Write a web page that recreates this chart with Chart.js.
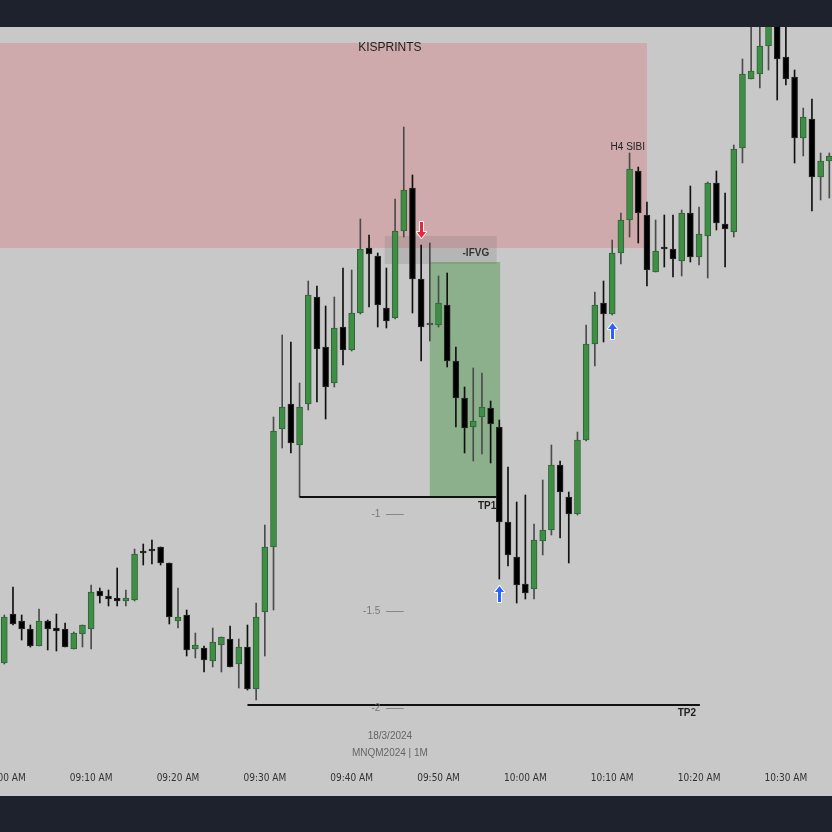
<!DOCTYPE html>
<html lang="en">
<head>
    <meta charset="UTF-8">
    <title>MNQM2024 1M</title>
    <script src="https://cdn.jsdelivr.net/npm/chart.js"></script>
    <style>
        body {
            margin: 0;
            background: #1e222d;
            width: 832px;
            height: 832px;
            overflow: hidden;
        }

        .chart-wrap {
            position: absolute;
            left: 0;
            top: 27px;
            width: 832px;
            height: 769px;
            background: #c8c8c8;
        }
    </style>
</head>
<body>
    <div class="chart-wrap">
        <canvas id="candles" width="832" height="769"></canvas>
    </div>

    <script>
        // 1 minute candles from 09:00, index = minutes after 09:00
        const opens = [18284.25, 18296.5, 18294.75, 18292.75, 18288.5, 18294.75, 18293, 18292.75, 18287.75, 18291.5,
            18292.75, 18302.25, 18301, 18300.5, 18299.75, 18300, 18312.25, 18312.75, 18313.25, 18309.25,
            18294.75, 18296.25, 18287.75, 18288, 18284.75, 18288.75, 18290.25, 18284, 18288.25, 18277.75,
            18297, 18313.25, 18342.75, 18349, 18338.75, 18349, 18375.75, 18363.25, 18354.25, 18368.25,
            18362.5, 18371.75, 18388, 18386, 18373, 18370.5, 18392.25, 18403, 18380.25, 18368.75,
            18368.75, 18373.75, 18359.75, 18350.5, 18343.25, 18345.75, 18348, 18343.25, 18319.5, 18310.75,
            18304, 18302.75, 18314.75, 18317.5, 18333.75, 18325.75, 18321.5, 18340, 18364, 18374.25,
            18371.5, 18386.75, 18395, 18407.25, 18396.25, 18382, 18388, 18387.75, 18384.75, 18396.75,
            18385.75, 18391, 18404.25, 18394, 18392, 18413, 18430.25, 18431.5, 18438.5, 18447.5,
            18435.75, 18430.75, 18415.5, 18420.25, 18405.75, 18409.75];
        const highs = [18296.25, 18303.25, 18296.25, 18293.75, 18297.75, 18295, 18296.5, 18294.25, 18292, 18293.75,
            18303.75, 18303, 18302.5, 18308, 18302.5, 18312.75, 18314, 18315, 18313.25, 18309.25,
            18303, 18297.5, 18291.75, 18288.5, 18293, 18290.75, 18293.5, 18290.25, 18293.75, 18299.25,
            18318.75, 18345.75, 18366.25, 18364.5, 18354.25, 18379.75, 18378.5, 18373.5, 18375.75, 18383,
            18382.5, 18395.25, 18391.25, 18386.75, 18383, 18400.25, 18418.25, 18406.25, 18388.75, 18389.25,
            18381, 18381.75, 18363.25, 18353.25, 18358, 18356.75, 18349.75, 18345, 18333.25, 18324.5,
            18326.25, 18319, 18330, 18338.75, 18334.75, 18327, 18342, 18368.75, 18377, 18379.75,
            18390, 18396.75, 18411.75, 18408.25, 18399.5, 18395, 18396.25, 18396.25, 18397.5, 18403.5,
            18398.25, 18404.5, 18407.25, 18401.75, 18413.75, 18435.25, 18447.5, 18447.5, 18450, 18450,
            18446.25, 18432.5, 18423, 18425.25, 18411.75, 18411.75];
        const lows = [18284, 18293.75, 18290, 18288.25, 18288.5, 18287.5, 18287.25, 18288.25, 18287.75, 18288.25,
            18287.75, 18299.25, 18298.5, 18298.5, 18298.5, 18299.75, 18308.75, 18309, 18308.75, 18294,
            18293, 18286, 18285.5, 18282, 18283.25, 18282, 18283.25, 18278, 18277.5, 18275,
            18286, 18297.5, 18338, 18336.75, 18325.75, 18347.5, 18349.5, 18345.25, 18353.25, 18358.75,
            18362.25, 18371.5, 18373.25, 18368.25, 18368, 18370.25, 18390.75, 18371.75, 18359.75, 18364.75,
            18368.25, 18358.25, 18343.25, 18336.75, 18334.75, 18336.5, 18334.25, 18305.25, 18308.5, 18299.25,
            18300.25, 18300.25, 18311.25, 18316.25, 18315.5, 18309.25, 18321.25, 18339.75, 18358.5, 18364.5,
            18371.25, 18384, 18390.75, 18389.25, 18378.5, 18382, 18383.25, 18380.75, 18381, 18384.5,
            18383.75, 18380.5, 18392.5, 18383.25, 18390.75, 18409.25, 18430.25, 18428, 18432.5, 18425,
            18428.75, 18409.25, 18411, 18397.25, 18400, 18400.5];
        const closes = [18295.75, 18294, 18292.75, 18288.5, 18294.75, 18292.75, 18292.25, 18288.25, 18291.75, 18293.75,
            18302, 18301, 18300.25, 18299.75, 18300.5, 18311.5, 18311.75, 18312.25, 18309.25, 18295.75,
            18295.75, 18287.5, 18288.75, 18285, 18289.5, 18290.75, 18283.25, 18288.25, 18277.75, 18295.75,
            18313.25, 18342.25, 18348.25, 18339.25, 18348.25, 18376.25, 18362.75, 18353.25, 18368, 18362.5,
            18371.75, 18387.75, 18386.5, 18373.75, 18369.75, 18392.25, 18402.5, 18380.25, 18368.25, 18368.75,
            18374.25, 18359.75, 18350.5, 18343, 18344.75, 18348.25, 18344, 18319.5, 18311.25, 18303.75,
            18301.75, 18315, 18317.5, 18333.75, 18327, 18321.5, 18340, 18364, 18373.75, 18371.5,
            18386.75, 18395, 18407.75, 18396.75, 18382.5, 18387.25, 18387.75, 18385.25, 18396.75, 18385.75,
            18391.5, 18404.25, 18394.25, 18392.75, 18412.75, 18431.5, 18432.25, 18438.5, 18446.25, 18435.25,
            18430.25, 18415.5, 18420.75, 18405.75, 18409.75, 18411];

        const tickMinutes = [0, 10, 20, 30, 40, 50, 60, 70, 80, 90];
        const tickLabels = ['09:00 AM', '09:10 AM', '09:20 AM', '09:30 AM', '09:40 AM',
            '09:50 AM', '10:00 AM', '10:10 AM', '10:20 AM', '10:30 AM'];

        // zones: [from minute, to minute, low price, high price]
        const sibiZone = [-5, 74.0, 18388, 18439.25];
        const ifvgBand = [43.8, 56.7, 18384, 18391];
        const fvgBox = [49.0, 57.1, 18325.75, 18384.5];

        // target lines: [from minute, to minute, price]
        const tp1Line = [34, 56.7, 18325.75];
        const tp2Line = [28, 80.1, 18273.75];

        // fib projection levels
        const fibLabels = ['-1', '-1.5', '-2'];
        const fibPrices = [18321.5, 18297.25, 18273];

        // signal arrows: minute, tip price, tail price
        const arrowMinutes = [48, 57, 70];
        const arrowTips = [18390.5, 18303.5, 18369.25];
        const arrowTails = [18394.5, 18299.5, 18365.25];
        const arrowColors = ['#e5283f', '#2962ff', '#2962ff'];

        const GREEN = '#3f8e46';
        const GREEN_EDGE = '#2f6434';
        const BLACK = '#000000';

        function candleColor(i, up, down, flat) {
            if (closes[i] > opens[i]) return up;
            if (closes[i] < opens[i]) return down;
            return flat;
        }

        const overlays = {
            id: 'overlays',
            beforeDatasetsDraw(chart) {
                const { ctx, chartArea, scales: { x, y } } = chart;
                ctx.save();
                ctx.beginPath();
                ctx.rect(chartArea.left, chartArea.top, chartArea.width, chartArea.height);
                ctx.clip();
                const box = (b, color) => {
                    const x0 = x.getPixelForValue(b[0]);
                    const x1 = x.getPixelForValue(b[1]);
                    const y0 = y.getPixelForValue(b[3]);
                    const y1 = y.getPixelForValue(b[2]);
                    ctx.fillStyle = color;
                    ctx.fillRect(x0, y0, x1 - x0, y1 - y0);
                };
                box(sibiZone, '#cfaaad');
                box(fvgBox, '#8cb08c');
                box(ifvgBand, 'rgba(90, 90, 90, 0.16)');
                ctx.restore();
            },
            afterDatasetsDraw(chart) {
                const { ctx, chartArea, scales: { x, y } } = chart;
                ctx.save();

                // time axis labels (drawn here so the plot keeps the full width)
                ctx.font = "10px 'DejaVu Sans Condensed', 'Liberation Sans', sans-serif";
                ctx.fillStyle = '#333';
                ctx.textAlign = 'center';
                ctx.textBaseline = 'middle';
                tickMinutes.forEach((m, i) => {
                    ctx.fillText(tickLabels[i], x.getPixelForValue(m), chartArea.bottom + 13);
                });

                // TP lines
                ctx.strokeStyle = '#111';
                ctx.lineWidth = 2;
                [tp1Line, tp2Line].forEach(l => {
                    const yy = Math.round(y.getPixelForValue(l[2]));
                    ctx.beginPath();
                    ctx.moveTo(x.getPixelForValue(l[0]), yy);
                    ctx.lineTo(x.getPixelForValue(l[1]), yy);
                    ctx.stroke();
                });

                // fib level labels with short ticks
                ctx.font = "10px 'Liberation Sans', Arial, sans-serif";
                fibPrices.forEach((p, i) => {
                    const yy = Math.round(y.getPixelForValue(p)) + 0.5;
                    ctx.fillStyle = '#777';
                    ctx.textAlign = 'right';
                    ctx.fillText(fibLabels[i], x.getPixelForValue(43.3), yy);
                    ctx.strokeStyle = '#888';
                    ctx.lineWidth = 1;
                    ctx.beginPath();
                    ctx.moveTo(x.getPixelForValue(43.95), yy);
                    ctx.lineTo(x.getPixelForValue(46.0), yy);
                    ctx.stroke();
                });

                // texts
                const text = (str, m, p, font, color) => {
                    ctx.font = font;
                    ctx.fillStyle = color;
                    ctx.textAlign = 'center';
                    ctx.textBaseline = 'middle';
                    ctx.fillText(str, x.getPixelForValue(m), y.getPixelForValue(p));
                };
                text('KISPRINTS', 44.4, 18438, "12px 'Liberation Sans', Arial, sans-serif", '#222');
                text('H4 SIBI', 71.8, 18413.25, "10px 'Liberation Sans', Arial, sans-serif", '#222');
                text('-IFVG', 54.3, 18386.75, "bold 10px 'Liberation Sans', Arial, sans-serif", '#333');
                text('TP1', 55.6, 18323.5, "bold 10px 'Liberation Sans', Arial, sans-serif", '#222');
                text('TP2', 78.6, 18271.75, "bold 10px 'Liberation Sans', Arial, sans-serif", '#222');
                text('18/3/2024', 44.4, 18266, "10px 'Liberation Sans', Arial, sans-serif", '#666');
                text('MNQM2024 | 1M', 44.4, 18261.75, "10px 'Liberation Sans', Arial, sans-serif", '#666');

                // arrows
                arrowMinutes.forEach((m, i) => {
                    const cx = Math.round(x.getPixelForValue(m)) + 0.5;
                    const tip = y.getPixelForValue(arrowTips[i]);
                    const tail = y.getPixelForValue(arrowTails[i]);
                    const dir = tail > tip ? 1 : -1;
                    const head = 6 * dir;
                    ctx.beginPath();
                    ctx.moveTo(cx, tip);
                    ctx.lineTo(cx + 4.5, tip + head);
                    ctx.lineTo(cx + 1.5, tip + head);
                    ctx.lineTo(cx + 1.5, tail);
                    ctx.lineTo(cx - 1.5, tail);
                    ctx.lineTo(cx - 1.5, tip + head);
                    ctx.lineTo(cx - 4.5, tip + head);
                    ctx.closePath();
                    ctx.strokeStyle = '#ffffff';
                    ctx.lineWidth = 2;
                    ctx.lineJoin = 'round';
                    ctx.stroke();
                    ctx.fillStyle = arrowColors[i];
                    ctx.fill();
                });

                ctx.restore();
            }
        };

        const bodies = opens.map((o, i) => ({ x: i, y: [o, closes[i]] }));
        const wicks = opens.map((o, i) => ({ x: i, y: [lows[i], highs[i]] }));

        const ctx = document.getElementById('candles').getContext('2d');
        new Chart(ctx, {
            type: 'bar',
            data: {
                datasets: [{
                    label: 'body',
                    data: bodies,
                    grouped: false,
                    barThickness: 6,
                    minBarLength: 2,
                    borderWidth: 1,
                    borderSkipped: false,
                    backgroundColor: c => candleColor(c.dataIndex, GREEN, BLACK, '#4a4a4a'),
                    borderColor: c => candleColor(c.dataIndex, GREEN_EDGE, '#2a2a2a', '#4a4a4a')
                }, {
                    label: 'wick',
                    data: wicks,
                    grouped: false,
                    barThickness: 1,
                    borderWidth: 0,
                    backgroundColor: c => candleColor(c.dataIndex, '#4b4b4b', '#111111', '#4a4a4a')
                }]
            },
            options: {
                responsive: false,
                animation: false,
                layout: { padding: { left: 0, right: 0, top: 0, bottom: 31 } },
                plugins: {
                    legend: { display: false },
                    tooltip: { enabled: false }
                },
                scales: {
                    x: {
                        type: 'linear',
                        display: false,
                        offset: false,
                        min: -0.495,
                        max: 95.31
                    },
                    y: {
                        display: false,
                        min: 18258.75,
                        max: 18443.25
                    }
                }
            },
            plugins: [overlays]
        });
    </script>
</body>
</html>
